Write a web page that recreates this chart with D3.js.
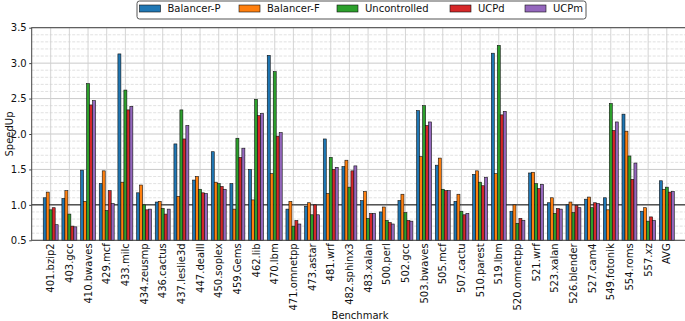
<!DOCTYPE html>
<html><head><meta charset="utf-8">
<script src="https://cdn.jsdelivr.net/npm/d3@7"></script>
<style>body{margin:0;background:#fff}svg{display:block}text{font-family:"DejaVu Sans",sans-serif}</style>
</head><body><svg id="c" width="685" height="321"></svg>
<script>
const categories = ["401.bzip2","403.gcc","410.bwaves","429.mcf","433.milc","434.zeusmp","436.cactus","437.leslie3d","447.dealII","450.soplex","459.Gems","462.lib","470.lbm","471.omnetpp","473.astar","481.wrf","482.sphinx3","483.xalan","500.perl","502.gcc","503.bwaves","505.mcf","507.cactu","510.parest","519.lbm","520.omnetpp","521.wrf","523.xalan","526.blender","527.cam4","549.fotonik","554.roms","557.xz","AVG"];
const seriesNames = ["Balancer-P","Balancer-F","Uncontrolled","UCPd","UCPm"];
const balancerP    = [1.10,1.09,1.49,1.30,3.13,1.17,1.04,1.86,1.35,1.75,1.30,1.50,3.11,0.94,0.98,1.93,1.54,1.06,0.90,1.06,2.33,1.56,1.05,1.43,3.14,0.91,1.45,1.03,1.00,1.08,1.10,2.28,0.91,1.34];
const balancerF    = [1.18,1.20,1.05,1.48,1.32,1.28,1.05,1.12,1.40,1.32,0.94,1.07,1.44,1.05,1.03,1.16,1.63,1.19,0.97,1.15,1.68,1.66,1.15,1.48,1.44,1.00,1.46,1.10,1.04,1.11,0.93,2.04,0.96,1.22];
const uncontrolled = [0.93,0.87,2.71,0.92,2.62,1.00,0.95,2.34,1.22,1.30,1.94,2.49,2.88,0.70,0.86,1.67,1.25,0.81,0.78,0.89,2.40,1.22,0.91,1.32,3.25,0.74,1.30,0.88,0.89,0.96,2.43,1.69,0.77,1.25];
const ucpd         = [0.96,0.70,2.41,1.20,2.34,0.93,0.87,1.93,1.17,1.26,1.67,2.26,1.97,0.78,1.00,1.50,1.48,0.88,0.75,0.78,2.12,1.20,0.86,1.27,2.27,0.81,1.23,0.95,0.99,1.03,2.05,1.36,0.83,1.18];
const ucpm         = [0.72,0.69,2.47,1.02,2.39,0.94,0.94,2.12,1.16,1.22,1.80,2.29,2.02,0.73,0.86,1.53,1.55,0.88,0.73,0.77,2.17,1.20,0.88,1.39,2.32,0.78,1.29,0.94,0.96,1.02,2.17,1.59,0.78,1.19];
const yTicks = [0.5,1.0,1.5,2.0,2.5,3.0,3.5];
const colors = ["#1f77b4","#ff7f0e","#2ca02c","#d62728","#9467bd"];
const allSeries = [balancerP,balancerF,uncontrolled,ucpd,ucpm];

const svg = d3.select("#c");
const L = 31.7, R = 685.5, T = 27.7, B = 240.3;
const x = d3.scalePoint().domain(categories).range([50.7, 666.8]);
const step = x.step();
const xs = d3.scaleBand().domain(seriesNames).range([-0.4*step, 0.4*step]);
const y = d3.scaleLinear().domain([0.5, 3.5]).range([B, T]);

// minor grid
const minor = d3.range(0.5, 3.5001, 0.1).filter(v => Math.abs(v*2 - Math.round(v*2)) > 1e-6);
svg.append("g").selectAll("line").data(minor).join("line")
  .attr("x1", L).attr("x2", R).attr("y1", d => y(d)).attr("y2", d => y(d))
  .attr("stroke", "#d9d9d9").attr("stroke-width", 0.8).attr("stroke-dasharray", "3,1.5");
// major grid
svg.append("g").selectAll("line").data(yTicks).join("line")
  .attr("x1", L).attr("x2", R).attr("y1", d => y(d)).attr("y2", d => y(d))
  .attr("stroke", "#c4c4c4").attr("stroke-width", 0.9);
// vertical grid
svg.append("g").selectAll("line").data(categories).join("line")
  .attr("x1", d => x(d)).attr("x2", d => x(d)).attr("y1", T).attr("y2", B)
  .attr("stroke", "#cfcfcf").attr("stroke-width", 0.9);
// reference line at 1.0
svg.append("line").attr("x1", L).attr("x2", R).attr("y1", y(1)).attr("y2", y(1))
  .attr("stroke", "#555").attr("stroke-width", 1.5);

// bars
seriesNames.forEach((s, si) => {
  svg.append("g").selectAll("rect").data(allSeries[si]).join("rect")
    .attr("x", (d, i) => x(categories[i]) + xs(s))
    .attr("width", xs.bandwidth())
    .attr("y", d => y(d))
    .attr("height", d => y(0.5) - y(d))
    .attr("fill", colors[si]).attr("stroke", "#111").attr("stroke-width", 0.6);
});

// frame
svg.append("rect").attr("x", L).attr("y", T).attr("width", R - L).attr("height", B - T)
  .attr("fill", "none").attr("stroke", "#444").attr("stroke-width", 1);

// y axis ticks & labels
const yAxis = d3.axisLeft(y).tickValues(yTicks).tickFormat(d3.format(".1f")).tickSize(2.5).tickPadding(2.5);
const ya = svg.append("g").attr("transform", `translate(${L},0)`).call(yAxis);
ya.select(".domain").remove();
ya.selectAll("line").attr("stroke", "#444");
ya.selectAll("text").attr("font-size", 10).attr("fill", "#111").attr("font-family", "DejaVu Sans");

// x labels
svg.append("g").selectAll("text").data(categories).join("text")
  .attr("transform", d => `translate(${x(d)},${B + 3})rotate(-90)`)
  .attr("text-anchor", "end").attr("dy", "0.35em")
  .attr("font-size", 10).attr("fill", "#111").text(d => d);

// axis titles
svg.append("text").attr("x", 360).attr("y", 319).attr("text-anchor", "middle")
  .attr("font-size", 10).attr("fill", "#111").text("Benchmark");
svg.append("text").attr("transform", `translate(9,${(T + B) / 2})rotate(-90)`)
  .attr("text-anchor", "middle").attr("dy", "0.35em")
  .attr("font-size", 10).attr("fill", "#111").text("SpeedUp");

// legend
const lg = svg.append("g");
lg.append("rect").attr("x", 137).attr("y", 1).attr("width", 449).attr("height", 18).attr("rx", 2.5)
  .attr("fill", "#fff").attr("stroke", "#555").attr("stroke-width", 1);
const legX = [139.5, 239, 337, 450, 525];
seriesNames.forEach((s, i) => {
  lg.append("rect").attr("x", legX[i]).attr("y", 5).attr("width", 21).attr("height", 7)
    .attr("fill", colors[i]).attr("stroke", "#111").attr("stroke-width", 0.6);
  lg.append("text").attr("x", legX[i] + 28).attr("y", 8.5).attr("dy", "0.35em")
    .attr("font-size", 10).attr("fill", "#111").text(s);
});
</script></body></html>
